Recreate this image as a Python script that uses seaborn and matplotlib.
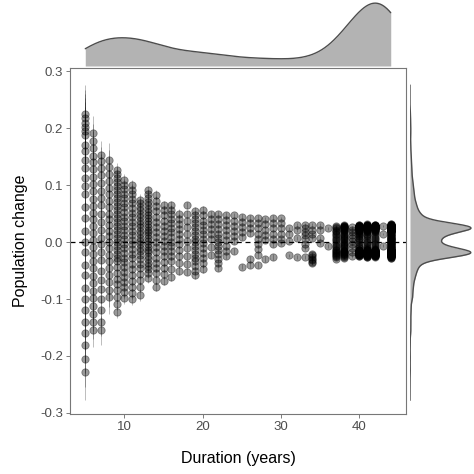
import pandas as pd
import matplotlib
matplotlib.use("Agg")
import matplotlib.pyplot as plt
import seaborn as sns

# population change per study, grouped by study duration (values in thousandths)
y05 = [226, 218, 210, 203, 196, 188, 170, 160, 145, 130, 112, 98, 84, 62, 42, 20, 0, -18, -40, -58,
       -80, -100, -120, -140, -160, -180, -205, -228]
y06 = [191, 178, 165, 152, 140, 128, 115, 102, 90, 76, 64, 52, 40, 28, 16, 4, -8, -20, -34, -46,
       -60, -72, -86, -98, -112, -126, -140, -155]
y07 = [153, 142, 130, 118, 104, 90, 78, 66, 50, 36, 22, 8, -4, -18, -32, -50, -66, -82, -100, -120, -140, -155]
y08 = [144, 132, 120, 108, 96, 84, 72, 62, 50, 40, 30, 20, 10, 0, -10, -22, -34, -46, -58, -70, -84, -96]
y09 = [127, 120, 113, 106, 99, 92, 85, 78, 71, 64, 57, 50, 43, 36, 29, 22, 15, 8, 1, -6,
       -13, -20, -27, -34, -44, -54, -64, -74, -84, -96, -108, -122]
y10 = [109, 101, 93, 85, 77, 69, 61, 53, 45, 37, 29, 21, 13, 5, -3, -11, -19, -27, -35, -43,
       -52, -61, -70, -79, -88, -98]
y11 = [100, 92, 84, 76, 68, 60, 52, 44, 36, 28, 20, 12, 4, -4, -12, -20, -28, -38, -48, -58, -68, -78, -90, -100]
y12 = [74, 68, 62, 56, 50, 44, 38, 32, 26, 20, 14, 8, 2, -4, -10, -16, -22, -30, -38, -46, -56, -66, -78, -93]
y13 = [91, 84, 77, 71, 65, 59, 53, 47, 42, 37, 32, 27, 22, 17, 12, 7, 2, -3, -8, -13,
       -18, -24, -30, -36, -42, -48, -55, -63]
y14 = [83, 73, 63, 54, 45, 36, 27, 18, 9, 0, -9, -18, -27, -36, -45, -55, -66, -78]
y15 = [65, 56, 47, 38, 29, 20, 11, 2, -7, -16, -25, -35, -45, -56, -68]
y16 = [65, 57, 49, 41, 33, 25, 17, 9, 1, -7, -15, -24, -34, -47, -61]
y17 = [50, 41, 32, 23, 14, 5, -4, -14, -25, -37, -50]
y18 = [65, 50, 38, 26, 14, 2, -10, -24, -38, -52]
y19 = [55, 48, 41, 34, 27, 20, 13, 6, 0, -6, -13, -20, -27, -34, -42, -50, -58]
y20 = [56, 47, 38, 30, 22, 14, 6, -2, -10, -19, -28, -37, -47]
y21 = [50, 41, 32, 23, 14, 5, -8, -22]
y22 = [50, 40, 31, 23, 15, 8, 1, -6, -13, -21, -29, -37, -45]
y23 = [48, 39, 30, 21, 12, 3, -7, -16, -25]
y24 = [47, 38, 29, 20, 11, 2, -16]
y25 = [45, 36, 27, 18, 9, -43]
y26 = [43, 34, 25, 16, -30, -40]
y27 = [42, 33, 24, 15, 6, -3, -12, -22, -40]
y28 = [40, 31, 22, 13, 4, -30]
y29 = [42, 33, 24, 15, 6, -3, -26]
y30 = [42, 33, 24, 15, 6, -2]
y31 = [24, 14, 2, -23]
y32 = [30, 21, 7, -26]
y33 = [30, 24, 18, 12, 6, -4, -11, -26]
y34 = [30, 22, 14, 7, -20, -23, -26, -29, -32, -35, -37]
y35 = [30, 21, 7, -2]
y36 = [24, -7]
y37 = [28, 26, 24, 22, 20, 18, 15, 12, 9, 6, 3, 0, -3, -6, -9, -12, -14, -16, -18, -19,
       -20, -22, -24, -26, -29]
y38 = [30, 29, 28, 28, 27, 26, 25, 25, 24, 23, 22, 21, 19, 17, 15, 13, 11, 9, 7, 5,
       3, 1, -1, -3, -5, -7, -9, -11, -13, -15, -16, -17, -18, -19, -20, -21, -22, -24, -26, -28]
y39 = [26, 22, 17, 12, 7, 2, -4, -10, -18, -25]
y40 = [30, 30, 29, 29, 29, 28, 28, 28, 27, 27, 27, 27, 26, 26, 26, 26, 25, 25, 25, 24,
       24, 23, 23, 22, 21, 20, 19, 18, 16, 14, 12, 10, 8, 6, 3, 0, -3, -6, -9, -11,
       -13, -14, -14, -15, -15, -16, -16, -17, -17, -17, -18, -18, -18, -18, -19, -19, -19, -19, -20, -20,
       -20, -20, -21, -21, -21, -22, -22, -23, -24, -25]
y41 = [31, 30, 30, 30, 29, 29, 29, 28, 28, 28, 28, 27, 27, 27, 27, 26, 26, 26, 25, 25,
       25, 24, 24, 23, 23, 22, 21, 20, 19, 17, 15, 13, 10, 7, 4, 1, -2, -5, -8, -10,
       -12, -13, -14, -14, -15, -15, -16, -16, -17, -17, -17, -18, -18, -18, -18, -19, -19, -19, -19, -20,
       -20, -20, -20, -21, -21, -21, -22, -22, -23, -23, -24, -24, -25, -26, -26]
y42 = [30, 30, 30, 29, 29, 29, 29, 28, 28, 28, 28, 27, 27, 27, 27, 27, 26, 26, 26, 26,
       25, 25, 25, 25, 24, 24, 24, 23, 23, 22, 21, 20, 19, 17, 14, 11, 8, 5, 2, -1,
       -4, -7, -10, -12, -13, -14, -14, -15, -15, -15, -16, -16, -16, -17, -17, -17, -18, -18, -18, -18,
       -19, -19, -19, -19, -20, -20, -20, -20, -21, -21, -21, -22, -22, -22, -23, -23, -24, -24, -25, -26]
y43 = [28, 14, -6]
y44 = [31, 31, 30, 30, 30, 30, 30, 29, 29, 29, 29, 29, 29, 28, 28, 28, 28, 28, 28, 28,
       28, 27, 27, 27, 27, 27, 27, 27, 27, 26, 26, 26, 26, 26, 26, 26, 26, 25, 25, 25,
       25, 25, 25, 25, 24, 24, 24, 24, 24, 23, 23, 23, 23, 22, 22, 22, 22, 21, 21, 21,
       20, 20, 20, 19, 19, 18, 18, 17, 16, 15, 14, 13, 12,
       11, 10, 9, 8, 8, 7, 6, 5, 4, 3, 3, 2, 1, 0, -1, -2, -3, -3, -4, -5,
       -6, -7, -8, -8, -9, -10,
       -11, -12, -12, -13, -13, -14, -14, -14, -14, -15, -15, -15, -15, -15, -16, -16, -16, -16, -16, -16,
       -17, -17, -17, -17, -17, -17, -17, -17, -18, -18, -18, -18, -18, -18, -18, -18, -19, -19, -19, -19,
       -19, -19, -19, -19, -20, -20, -20, -20, -20, -20, -20, -21, -21, -21, -21, -21, -22, -22, -22, -22,
       -22, -23, -23, -23, -23, -24, -24, -24, -24, -25, -25, -25, -26, -26, -27, -27]

durations = [5, 6, 7, 8, 9, 10, 11, 12, 13, 14, 15, 16, 17, 18, 19, 20, 21, 22, 23, 24,
             25, 26, 27, 28, 29, 30, 31, 32, 33, 34, 35, 36, 37, 38, 39, 40, 41, 42, 43, 44]
changes = [y05, y06, y07, y08, y09, y10, y11, y12, y13, y14, y15, y16, y17, y18, y19, y20, y21, y22, y23, y24,
           y25, y26, y27, y28, y29, y30, y31, y32, y33, y34, y35, y36, y37, y38, y39, y40, y41, y42, y43, y44]
# half width of the confidence interval for each duration (thousandths)
ci_half = [50, 30, 25, 30, 12, 10, 10, 10, 8, 8, 8, 8, 8, 6, 6, 8, 5, 5, 5, 5,
           5, 5, 5, 5, 5, 3, 3, 3, 3, 3, 3, 3, 2, 2, 2, 2, 2, 2, 2, 2]

rows = []
for d, vals, hw in zip(durations, changes, ci_half):
    for v in vals:
        rows.append((d, v / 1000, hw / 1000))
df = pd.DataFrame(rows, columns=["duration", "change", "ci"])
df["lo"] = df["change"] - df["ci"]
df["hi"] = df["change"] + df["ci"]

sns.set_style("ticks")
plt.rcParams["font.family"] = ["Liberation Sans", "DejaVu Sans"]
plt.rcParams["axes.unicode_minus"] = False

W = 474
fig = plt.figure(figsize=(4.74, 4.74), dpi=100)
ax = fig.add_axes([70 / W, 60 / W, 336 / W, 346 / W])
ax_top = fig.add_axes([70 / W, 408 / W, 336 / W, 66 / W])
ax_right = fig.add_axes([410 / W, 60 / W, 64 / W, 346 / W])

# main panel
ax.vlines(df["duration"], df["lo"], df["hi"], color="black", alpha=0.3, lw=0.6)
sns.scatterplot(data=df, x="duration", y="change", ax=ax, color="black", alpha=0.4,
                s=28, edgecolor="black", linewidth=0.6)
ax.axhline(0, color="black", ls=(0, (4, 3)), lw=0.9)
ax.set_xlim(3.05, 45.95)
ax.set_ylim(-0.302, 0.306)
ax.set_xticks([10, 20, 30, 40])
yt = [-0.3, -0.2, -0.1, 0.0, 0.1, 0.2, 0.3]
ax.set_yticks(yt)
ax.set_yticklabels([f"{t:.1f}" for t in yt])
ax.tick_params(direction="out", length=3, width=0.6, color="#666666",
               labelsize=9.5, labelcolor="#4d4d4d", pad=2)
for sp in ax.spines.values():
    sp.set_visible(True)
    sp.set_color("#777777")
    sp.set_linewidth(0.8)
ax.set_xlabel("Duration (years)", fontsize=11.5, labelpad=13, color="black")
ax.set_ylabel("Population change", fontsize=11.5, labelpad=9, color="black")

# marginal densities
fill_col = "#b3b3b3"
line_col = "#4d4d4d"
sns.kdeplot(data=df, x="duration", ax=ax_top, fill=True, color=fill_col, alpha=1, linewidth=0,
            clip=(5, 44), cut=0, bw_adjust=0.7, gridsize=400)
sns.kdeplot(data=df, x="duration", ax=ax_top, color=line_col, linewidth=1,
            clip=(5, 44), cut=0, bw_adjust=0.7, gridsize=400)
ax_top.set_xlim(ax.get_xlim())
ax_top.set_ylim(0, ax_top.get_ylim()[1])
ax_top.axis("off")

yclip = (df["lo"].min(), df["hi"].max())
sns.kdeplot(data=df, y="change", ax=ax_right, fill=True, color=fill_col, alpha=1, linewidth=0,
            clip=yclip, cut=20, bw_adjust=0.6, gridsize=600)
sns.kdeplot(data=df, y="change", ax=ax_right, color=line_col, linewidth=1,
            clip=yclip, cut=20, bw_adjust=0.6, gridsize=600)
ax_right.set_ylim(ax.get_ylim())
ax_right.set_xlim(0, ax_right.get_xlim()[1])
ax_right.axis("off")

fig.savefig("out.png", dpi=100)
